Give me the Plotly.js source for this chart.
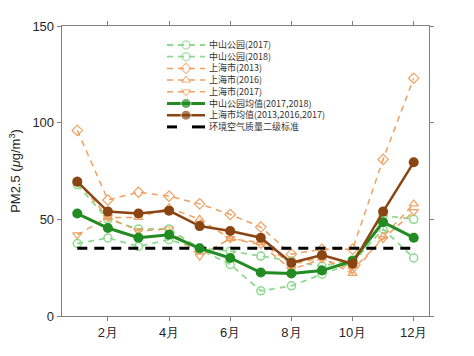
<!DOCTYPE html>
<html>
<head>
<meta charset="utf-8">
<script src="https://cdn.plot.ly/plotly-3.0.1.min.js"></script>
<style>body{margin:0;padding:0;background:#fff}#chart{width:474px;height:356px}</style>
</head>
<body>
<div id="chart"></div>
<script>
// ---- data ----
const months = [1,2,3,4,5,6,7,8,9,10,11,12];
const tickVals = [2,4,6,8,10,12];
const tickLabels = ["2月","4月","6月","8月","10月","12月"];
const zs2017 = [68, 50, 45, 45, 35, 33.5, 31, 28.5, 25.8, 29, 52, 50];
const zs2018 = [37.5, 40.4, 36, 39.5, 34.5, 26.7, 13, 15.6, 21.6, 27.5, 45, 30];
const sh2013 = [96, 60, 64, 62, 58, 52.5, 46, 32, 34.5, 34.5, 81, 123];
const sh2016 = [70, 51, 51, 56, 50, 40, 38, 27, 30, 22, 41, 58];
const sh2017 = [42, 51, 44, 45, 31, 40, 37, 24, 29.5, 24, 40, 54];
const zsMean = [53, 45.5, 40.5, 42, 35, 30, 22.5, 22, 23.5, 28.5, 48.5, 40.5];
const shMean = [69.5, 54, 53, 54.5, 46.5, 44, 40.5, 27.5, 31.5, 27, 54, 79.5];
const standard = [35,35,35,35,35,35,35,35,35,35,35,35];
const legendLabels = ["中山公园(2017)","中山公园(2018)","上海市(2013)","上海市(2016)","上海市(2017)",
  "中山公园均值(2017,2018)","上海市均值(2013,2016,2017)","环境空气质量二级标准"];

// ---- styles ----
const LG = "#8fd98f", OR = "#F0A060", DG = "#228B22", BR = "#8B4513";
const styles = [
  {line:{color:LG,width:1.8,dash:"6px,5px"}, marker:{symbol:"circle-open",size:8,color:LG,line:{width:1.5}}},
  {line:{color:LG,width:1.8,dash:"6px,5px"}, marker:{symbol:"circle-open",size:8,color:LG,line:{width:1.5}}},
  {line:{color:OR,width:1.5,dash:"6px,5px"}, marker:{symbol:"diamond-open",size:8,color:OR,line:{width:1.2}}},
  {line:{color:OR,width:1.5,dash:"6px,5px"}, marker:{symbol:"triangle-up-open",size:8,color:OR,line:{width:1.2}}},
  {line:{color:OR,width:1.5,dash:"6px,5px"}, marker:{symbol:"triangle-down-open",size:8,color:OR,line:{width:1.2}}},
  {line:{color:DG,width:3}, marker:{symbol:"circle",size:10,color:DG}},
  {line:{color:BR,width:2.5}, marker:{symbol:"circle",size:10,color:BR}},
  {line:{color:"#000",width:3,dash:"10px,7px"}, marker:{size:0}}
];
const series = [zs2017, zs2018, sh2013, sh2016, sh2017, zsMean, shMean, standard];
const drawOrder = [0,1,2,3,4,7,5,6];

const traces = [];
drawOrder.forEach(i => {
  traces.push({
    x: months, y: series[i], type: "scatter",
    mode: i === 7 ? "lines" : "lines+markers",
    line: styles[i].line, marker: styles[i].marker,
    showlegend: false, hoverinfo: "skip", cliponaxis: false
  });
});

// ---- custom legend (compact rows) ----
legendLabels.forEach((lab, i) => {
  const s = styles[i];
  if (i === 7) {
    traces.push({x:[105,115], y:[i,i], xaxis:"x2", yaxis:"y2", type:"scatter", mode:"lines",
      line:{color:"#000",width:3}, showlegend:false, hoverinfo:"skip"});
    traces.push({x:[130,143], y:[i,i], xaxis:"x2", yaxis:"y2", type:"scatter", mode:"lines",
      line:{color:"#000",width:3}, showlegend:false, hoverinfo:"skip"});
  } else {
    const dashed = i < 5;
    traces.push({x:[105,124,143], y:[i,i,i], xaxis:"x2", yaxis:"y2", type:"scatter",
      mode:"lines+markers",
      line: dashed ? {color:s.line.color,width:s.line.width,dash:"6px,5px"} : s.line,
      marker: Object.assign({}, s.marker, {size:[0, s.marker.size, 0]}),
      showlegend:false, hoverinfo:"skip"});
  }
});
const annotations = [{xref:"x2", yref:"y2", x:146, y:(legendLabels.length-1)/2,
  text: legendLabels.join("<br>"), showarrow:false, align:"left",
  xanchor:"left", yanchor:"middle", borderpad:0,
  font:{family:"Noto Sans CJK SC, sans-serif", size:9, color:"#333333"}}];

const axisFont = {family:"Liberation Sans, Arial, sans-serif", size:13, color:"#262626"};
const layout = {
  width: 474, height: 356,
  margin: {l:62, r:45, t:26, b:40},
  paper_bgcolor: "#fff", plot_bgcolor: "#fff",
  showlegend: false,
  xaxis: {range:[0.5,12.5], tickvals:tickVals, ticktext:tickLabels, showgrid:false, zeroline:false,
    showline:true, linecolor:"#808080", linewidth:1.3, mirror:"ticks", ticks:"outside", ticklen:4,
    tickcolor:"#808080", tickfont:axisFont},
  yaxis: {range:[0,150], tickvals:[0,50,100,150], showgrid:false, zeroline:false,
    showline:true, linecolor:"#808080", linewidth:1.3, mirror:"ticks", ticks:"outside", ticklen:4,
    tickcolor:"#808080", tickfont:axisFont,
    title:{text:"PM2.5 (<i>μ</i>g/m<sup>3</sup>)", font:axisFont, standoff:8}},
  xaxis2: {overlaying:"x", range:[0,367], visible:false, fixedrange:true},
  yaxis2: {overlaying:"y", range:[23.16,-1.624], visible:false, fixedrange:true},
  annotations: annotations
};

Plotly.newPlot("chart", traces, layout, {staticPlot:true, displayModeBar:false});
</script>
</body>
</html>
